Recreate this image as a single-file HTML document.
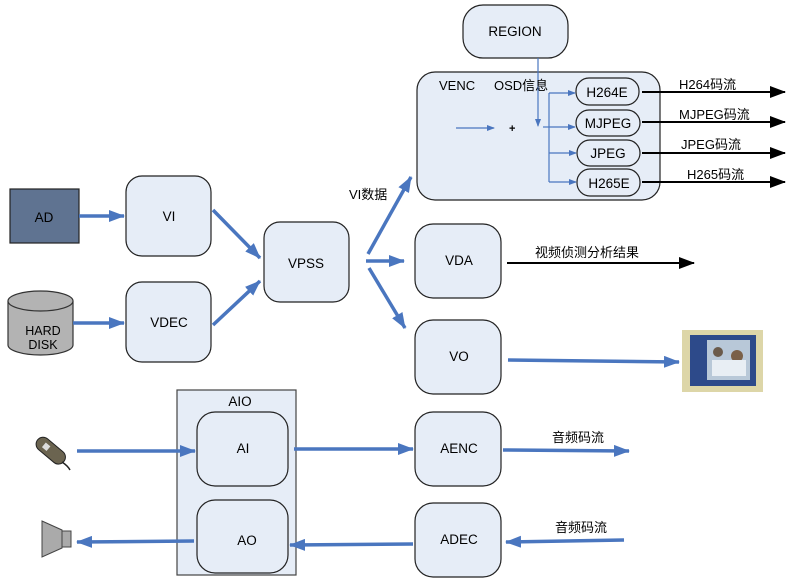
<!DOCTYPE html>
<html><head><meta charset="utf-8"><style>
html,body{margin:0;padding:0;background:#fff;}
svg{display:block;font-family:"Liberation Sans","Noto Sans CJK SC",sans-serif;}
</style></head><body>
<svg width="794" height="587" viewBox="0 0 794 587" xmlns="http://www.w3.org/2000/svg">
<defs>
<marker id="bB" markerWidth="16" markerHeight="12" refX="15" refY="6" orient="auto" markerUnits="userSpaceOnUse"><path d="M0,0 L16,6 L0,12 z" fill="#4a76bf"/></marker>
<marker id="tA" markerWidth="8" markerHeight="6" refX="7" refY="3" orient="auto" markerUnits="userSpaceOnUse"><path d="M0,0 L8,3 L0,6 z" fill="#4a76bf"/></marker>
<marker id="kA" markerWidth="16" markerHeight="12" refX="15" refY="6" orient="auto" markerUnits="userSpaceOnUse"><path d="M0,0 L16,6 L0,12 z" fill="#000"/></marker>
</defs>
<g stroke="#222" stroke-width="1.2" fill="#e6edf7">
<rect x="463" y="5" width="105" height="53" rx="20"/>
<rect x="417" y="72" width="243" height="128" rx="18"/>
<rect x="126" y="176" width="85" height="80" rx="16"/>
<rect x="126" y="282" width="85" height="80" rx="16"/>
<rect x="264" y="222" width="85" height="80" rx="16"/>
<rect x="415" y="224" width="86" height="74" rx="18"/>
<rect x="415" y="320" width="86" height="74" rx="18"/>
<rect x="415" y="412" width="86" height="74" rx="18"/>
<rect x="415" y="503" width="86" height="74" rx="18"/>
<rect x="177" y="390" width="119" height="185" rx="0" stroke="#444"/>
<rect x="197" y="412" width="91" height="74" rx="18"/>
<rect x="197" y="500" width="91" height="73" rx="18"/>
<rect x="576" y="78" width="63" height="27" rx="13"/>
<rect x="576" y="110" width="64" height="26" rx="13"/>
<rect x="577" y="140" width="63" height="26" rx="13"/>
<rect x="577" y="169" width="63" height="27" rx="13"/>
</g>
<rect x="10" y="189" width="69" height="54" fill="#5f7391" stroke="#222" stroke-width="1.2"/>
<path d="M8,301 L8,345 A32.5,10 0 0 0 73,345 L73,301" fill="#b3b3b3" stroke="#333" stroke-width="1.2"/>
<ellipse cx="40.5" cy="301" rx="32.5" ry="10" fill="#b3b3b3" stroke="#333" stroke-width="1.2"/>
<path d="M42,521 L62,530 L62,548 L42,557 z" fill="#aaa" stroke="#444"/>
<rect x="62" y="531" width="9" height="16" fill="#aaa" stroke="#444"/>
<g transform="rotate(40 50 450)"><rect x="34" y="443" width="34" height="14" rx="7" fill="#6b6450" stroke="#222"/><rect x="42" y="447" width="6" height="6" fill="#ddd"/></g>
<path d="M62,462 Q68,466 70,470" stroke="#222" fill="none" stroke-width="1.5"/>
<rect x="682" y="330" width="81" height="62" fill="#ddd6a8"/>
<rect x="690" y="335" width="66" height="51" fill="#2d4a8a"/>
<rect x="707" y="340" width="43" height="40" fill="#b8c8d8"/>
<circle cx="718" cy="352" r="5" fill="#6a5a4a"/><circle cx="737" cy="356" r="6" fill="#7a6048"/><rect x="712" y="360" width="34" height="16" fill="#e8eef4"/>
<g stroke="#4a76bf" stroke-width="3.5" fill="none" marker-end="url(#bB)">
<line x1="79" y1="216" x2="124" y2="216"/>
<line x1="73" y1="323" x2="124" y2="323"/>
<line x1="213" y1="210" x2="260" y2="258"/>
<line x1="213" y1="325" x2="260" y2="281"/>
<line x1="368" y1="254" x2="411" y2="177"/>
<line x1="366" y1="261" x2="404" y2="261"/>
<line x1="369" y1="268" x2="405" y2="328"/>
<line x1="508" y1="360" x2="679" y2="362"/>
<line x1="77" y1="451" x2="195" y2="451"/>
<line x1="294" y1="449" x2="413" y2="449"/>
<line x1="503" y1="450" x2="629" y2="451"/>
<line x1="624" y1="540" x2="506" y2="542"/>
<line x1="413" y1="544" x2="290" y2="545"/>
<line x1="194" y1="541" x2="77" y2="542"/>
</g>
<g stroke="#4a76bf" stroke-width="1.2" fill="none">
<line x1="456" y1="128" x2="494" y2="128" marker-end="url(#tA)"/>
<line x1="538" y1="58" x2="538" y2="126" marker-end="url(#tA)"/>
<line x1="543" y1="127" x2="549" y2="127"/>
<line x1="549" y1="93" x2="549" y2="182"/>
<line x1="549" y1="93" x2="575" y2="93" marker-end="url(#tA)"/>
<line x1="549" y1="127" x2="575" y2="127" marker-end="url(#tA)"/>
<line x1="549" y1="153" x2="576" y2="153" marker-end="url(#tA)"/>
<line x1="549" y1="182" x2="576" y2="182" marker-end="url(#tA)"/>
</g>
<g stroke="#000" stroke-width="2" fill="none" marker-end="url(#kA)">
<line x1="642" y1="92" x2="785" y2="92"/>
<line x1="642" y1="122" x2="785" y2="122"/>
<line x1="642" y1="153" x2="785" y2="153"/>
<line x1="642" y1="182" x2="785" y2="182"/>
<line x1="507" y1="263" x2="694" y2="263"/>
</g>
<g font-size="13.5" fill="#000" text-anchor="middle">
<text x="515" y="36">REGION</text>
<text x="44" y="222">AD</text>
<text x="169" y="221">VI</text>
<text x="169" y="327">VDEC</text>
<text x="306" y="268">VPSS</text>
<text x="459" y="265">VDA</text>
<text x="459" y="361">VO</text>
<text x="459" y="453">AENC</text>
<text x="459" y="544">ADEC</text>
<text x="240" y="406">AIO</text>
<text x="243" y="453">AI</text>
<text x="247" y="545">AO</text>
<text x="607" y="97">H264E</text>
<text x="608" y="128">MJPEG</text>
<text x="608" y="158">JPEG</text>
<text x="609" y="188">H265E</text>
<text x="43" y="335" font-size="12.5">HARD</text>
<text x="43" y="349" font-size="12.5">DISK</text>
</g>
<g font-size="13" fill="#000">
<text x="439" y="90">VENC</text>
<text x="494" y="90">OSD信息</text>
<text x="509" y="132" font-weight="bold" font-size="11">+</text>
<text x="679" y="89">H264码流</text>
<text x="679" y="119">MJPEG码流</text>
<text x="681" y="149">JPEG码流</text>
<text x="687" y="179">H265码流</text>
<text x="349" y="199">VI数据</text>
<text x="535" y="257">视频侦测分析结果</text>
<text x="552" y="442">音频码流</text>
<text x="555" y="532">音频码流</text>
</g>
</svg>
</body></html>
